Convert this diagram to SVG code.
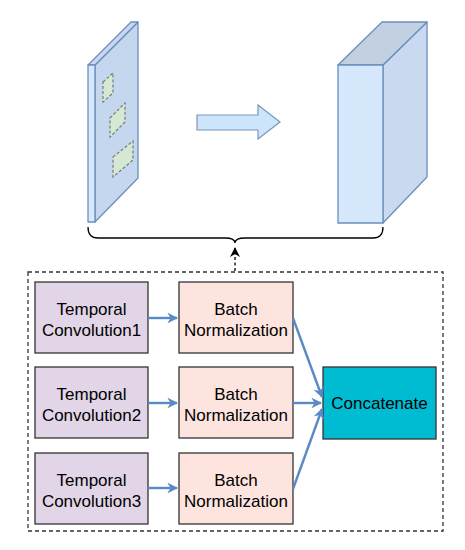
<svg xmlns="http://www.w3.org/2000/svg" width="465" height="550" viewBox="0 0 465 550">
<style>
.t{font-family:"Liberation Sans",Arial,sans-serif;font-size:17px;fill:#000;text-anchor:middle}
.box{stroke:#333;stroke-width:1.3}
.conv{fill:#e1d5e7}
.bn{fill:#fde4df}
.blue{stroke:#6c8ebf;stroke-width:1.3;stroke-linejoin:round}
.link{stroke:#5a8ac6;stroke-width:2.4;fill:none}
.patch{fill:#d5e8d4;stroke:#777;stroke-width:1.2;stroke-dasharray:3 2}
</style>
<defs>
<marker id="ah" viewBox="0 0 10 10" refX="9" refY="5" markerWidth="5" markerHeight="4.5" orient="auto" markerUnits="strokeWidth">
<path d="M0,0 L10,5 L0,10 L3,5 Z" fill="#5a8ac6"/>
</marker>
<marker id="ak" viewBox="0 0 10 10" refX="9" refY="5" markerWidth="10" markerHeight="10" orient="auto" markerUnits="userSpaceOnUse">
<path d="M0,0 L10,5 L0,10 L3,5 Z" fill="#000"/>
</marker>
</defs>
<g id="slab">
<polygon class="blue" points="95,65 138,22 138,178 95,222" fill="#c5d7ee"/>
<polygon class="blue" points="88,65 131,22 138,22 95,65" fill="#c9d9ec"/>
<rect class="blue" x="88" y="65" width="7" height="157" fill="#d7e8fb"/>
<polygon class="patch" points="103,82 113,73 113,93 103,102"/>
<polygon class="patch" points="110,118 125,103 125,122 110,137"/>
<polygon class="patch" points="113,157 133,141 133,160 113,177"/>
</g>
<g id="arrow">
<polygon points="197,115 258,115 258,105 280,122 258,139 258,130 197,130" fill="#cce5fb" stroke="#7c96b8" stroke-width="1.2"/>
</g>
<g id="block">
<polygon class="blue" points="383,65 427,22 427,177 383,223" fill="#c9daf0"/>
<polygon class="blue" points="338,65 382,22 427,22 383,65" fill="#c2d0e2"/>
<rect class="blue" x="338" y="65" width="45" height="158" fill="#d6e8fb"/>
</g>
<g id="brace">
<path d="M88,227 Q88,238 98,238 L225,238 Q235,238 235,243 Q235,238 245,238 L373,238 Q383,238 383,227" fill="none" stroke="#000" stroke-width="1.3"/>
</g>
<g id="container">
<rect x="28" y="272" width="415" height="259" fill="none" stroke="#333" stroke-width="1.3" stroke-dasharray="4 3"/>
</g>
<g id="conv1"><rect class="box conv" x="35" y="282" width="113" height="71"/><text class="t" x="91.5" y="315">Temporal</text><text class="t" x="91.5" y="336">Convolution1</text></g>
<g id="conv2"><rect class="box conv" x="35" y="367" width="113" height="71"/><text class="t" x="91.5" y="400">Temporal</text><text class="t" x="91.5" y="421">Convolution2</text></g>
<g id="conv3"><rect class="box conv" x="35" y="453" width="113" height="71"/><text class="t" x="91.5" y="486">Temporal</text><text class="t" x="91.5" y="507">Convolution3</text></g>
<g id="bn1"><rect class="box bn" x="179" y="282" width="114" height="71"/><text class="t" x="236" y="315">Batch</text><text class="t" x="236" y="336">Normalization</text></g>
<g id="bn2"><rect class="box bn" x="179" y="367" width="114" height="71"/><text class="t" x="236" y="400">Batch</text><text class="t" x="236" y="421">Normalization</text></g>
<g id="bn3"><rect class="box bn" x="179" y="453" width="114" height="71"/><text class="t" x="236" y="486">Batch</text><text class="t" x="236" y="507">Normalization</text></g>
<g id="concat"><rect class="box" x="323" y="367" width="113" height="72" fill="#00bcd2"/><text class="t" x="379.5" y="409">Concatenate</text></g>
<g id="connectors">
<line x1="235" y1="271" x2="235" y2="248" stroke="#000" stroke-width="1.3" stroke-dasharray="3 2.5" marker-end="url(#ak)"/>
<line class="link" x1="148" y1="318" x2="177" y2="318" marker-end="url(#ah)"/>
<line class="link" x1="148" y1="403" x2="177" y2="403" marker-end="url(#ah)"/>
<line class="link" x1="148" y1="488" x2="177" y2="488" marker-end="url(#ah)"/>
<line class="link" x1="293" y1="318" x2="322" y2="397" marker-end="url(#ah)"/>
<line class="link" x1="293" y1="403" x2="321" y2="403" marker-end="url(#ah)"/>
<line class="link" x1="293" y1="489" x2="322" y2="409" marker-end="url(#ah)"/>
</g>
</svg>
